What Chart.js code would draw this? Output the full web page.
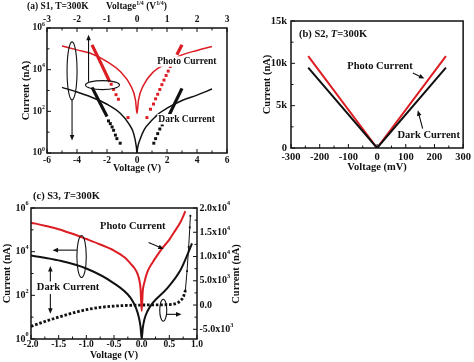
<!DOCTYPE html>
<html><head><meta charset="utf-8">
<script src="https://cdn.jsdelivr.net/npm/chart.js@4.4.1/dist/chart.umd.min.js"></script>
<style>
html,body{margin:0;padding:0;background:#fff;width:474px;height:362px;overflow:hidden}
.p{position:absolute}
canvas{display:block}
</style></head><body>
<div class="p" style="left:0;top:0"><canvas id="ca" width="240" height="185"></canvas></div>
<div class="p" style="left:240px;top:0"><canvas id="cb" width="234" height="185"></canvas></div>
<div class="p" style="left:0;top:185px"><canvas id="cc" width="250" height="177"></canvas></div>
<script>
// ================= DATA =================
// Panel (a) S1 : current vs voltage (log10 of current in nA)
const voltA_photo = [-5,-4,-3.1,-2,-1.1,-0.44,-0.1,0,0.1,0.44,1.1,2,3,4,5];
const photoA_exp  = [5.14,4.95,4.79,4.39,3.9,3.26,2.54,1.9,2.54,3.26,3.9,4.31,4.71,4.92,5.11];
const voltA_dark  = [-5,-4,-3.1,-2,-1.1,-0.55,-0.22,-0.04,0,0.04,0.2,0.5,0.9,1.2,1.5,2,3,4,5];
const darkA_exp   = [3.15,2.93,2.7,2.34,1.9,1.41,0.93,0.28,0,0.25,0.65,1.15,1.5,1.72,1.92,2.15,2.52,2.78,3.07];
// Panel (a) vs V^1/4 (top axis), scatter markers
const uA_redDenseL = [-1.5,-1.2,-0.91];   const eA_redDenseL = [5.19,4.3,3.42];
const uA_redDenseR = [1.33,1.5];          const eA_redDenseR = [4.72,5.2];
const uA_redDots = [-0.86,-0.78,-0.7,-0.62,-0.3,0.33,0.45,0.55,0.62,0.69,0.76,0.83,0.9,0.97,1.04,1.11,1.18,1.25];
const eA_redDots = [3.3,3.05,2.8,2.58,1.7,1.7,2.1,2.35,2.6,2.82,3.05,3.28,3.5,3.72,3.93,4.15,4.38,4.55];
const uA_blkDenseL = [-1.5,-1.0];         const eA_blkDenseL = [3.15,1.75];
const uA_blkDenseR = [1.08,1.5];          const eA_blkDenseR = [1.85,3.1];
const uA_blkDots = [-0.95,-0.89,-0.83,-0.78,-0.72,-0.67,-0.56,0.56,0.62,0.69,0.76,0.84,0.92,0.99];
const eA_blkDots = [1.54,1.41,1.25,1.09,0.86,0.69,0.47,0.47,0.69,0.93,1.15,1.35,1.55,1.72];

// Panel (b) S2 : linear current (nA) vs voltage (mV)
const voltB  = [-240,0,240];
const photoB = [10850,0,10850];
const darkB  = [9500,0,9500];

// Panel (c) S3
const voltC_photo = [-2,-1.75,-1.5,-1.25,-1,-0.75,-0.5,-0.3,-0.2,-0.1,-0.05,-0.02,0,0.02,0.05,0.1,0.2,0.3,0.37,0.5,0.58,0.7,0.79];
const photoC_exp  = [5.33,5.19,5.03,4.82,4.58,4.33,4.05,3.72,3.45,3.12,2.78,2.3,1.28,2.2,2.6,3.05,3.52,3.9,4.15,4.55,4.87,5.35,5.85];
const voltC_dark  = [-2,-1.5,-1,-0.5,-0.2,-0.1,-0.05,-0.02,0,0.02,0.05,0.1,0.2,0.46,0.7,0.8,0.91];
const darkC_exp   = [3.83,3.6,3.23,2.55,1.88,1.4,0.98,0.55,0,0.5,0.9,1.25,1.65,2.32,3.15,3.7,4.38];
const voltC_lin   = [-2,-1.7,-1.5,-1.2,-1,-0.75,-0.5,-0.25,0,0.25,0.5,0.58,0.65,0.7,0.75,0.79];
const darkC_lin   = [-4400,-3200,-2500,-1500,-960,-480,-220,-70,0,40,90,200,450,900,1600,3000];
const voltC_tail  = [0.79,0.82,0.85,0.87,0.88];
const darkC_tail  = [3000,7000,12000,16000,18400];

// Tick values / labels
const ticksA_bottom = [-6,-4,-2,0,2,4,6],  minorA_bottom = [-5,-3,-1,1,3,5];
const ticksA_top = [-3,-2,-1,0,1,2,3],     minorA_top = [-2.5,-1.5,-0.5,0.5,1.5,2.5];
const ticksA_left = [1,1e2,1e4,1e6],       minorA_left = [10,1e3,1e5];
const expLabelsA = ['0','2','4','6'];
const ticksB_x = [-300,-200,-100,0,100,200,300], minorB_x = [-250,-150,-50,50,150,250];
const ticksB_y = [0,5000,10000,15000],     minorB_y = [2500,7500,12500];
const labelsB_y = ['0','5k','10k','15k'];
const ticksC_x = [-2,-1.5,-1,-0.5,0,0.5,1], minorC_x = [-1.75,-1.25,-0.75,-0.25,0.25,0.75];
const ticksC_left = [1,1e2,1e4,1e6],       minorC_left = [10,1e3,1e5];
const expLabelsC = ['0','2','4','6'];
const ticksC_right = [-5000,0,5000,10000,15000,20000], minorC_right = [-2500,2500,7500,12500,17500];
const labelsC_right_main = ['-5.0x10','0.0','5.0x10','1.0x10','1.5x10','2.0x10'];
const labelsC_right_sup  = ['3','','3','4','4','4'];

// ================= HELPERS =================
const RED = '#dc1e24', BLK = '#111111';
const SERIF = '"Liberation Serif","Times New Roman",serif';
const F = (s, st) => (st || 'bold') + ' ' + s + 'px ' + SERIF;
const pow10 = e => Math.pow(10, e);
const pts = (xs, ys, f) => xs.map((x, i) => ({x: x, y: f ? f(ys[i]) : ys[i]}));

function richText(ctx, x, y, parts, size, align, rot) {
  const fontOf = p => p[1] === 's' ? F(size * 0.62) : (p[1] === 'i' ? F(size, 'italic bold') : F(size));
  let w = 0;
  const ws = parts.map(p => { ctx.font = fontOf(p); const m = ctx.measureText(p[0]).width; w += m; return m; });
  ctx.save();
  ctx.translate(x, y);
  if (rot) ctx.rotate(rot);
  let cx = align === 'right' ? -w : (align === 'center' ? -w / 2 : 0);
  ctx.textBaseline = 'middle'; ctx.textAlign = 'left'; ctx.fillStyle = BLK;
  parts.forEach((p, i) => { ctx.font = fontOf(p); ctx.fillText(p[0], cx, p[1] === 's' ? -size * 0.42 : 0); cx += ws[i]; });
  ctx.restore();
  return w;
}
function drawArrow(ctx, x1, y1, x2, y2) {
  const ang = Math.atan2(y2 - y1, x2 - x1), L = 5.5, W = 2.3;
  ctx.beginPath(); ctx.moveTo(x1, y1); ctx.lineTo(x2 - Math.cos(ang) * L * 0.8, y2 - Math.sin(ang) * L * 0.8); ctx.stroke();
  ctx.beginPath();
  ctx.moveTo(x2, y2);
  ctx.lineTo(x2 - Math.cos(ang) * L - Math.sin(ang) * W, y2 - Math.sin(ang) * L + Math.cos(ang) * W);
  ctx.lineTo(x2 - Math.cos(ang) * L + Math.sin(ang) * W, y2 - Math.sin(ang) * L - Math.cos(ang) * W);
  ctx.closePath(); ctx.fill();
}

const deco = {
  id: 'deco',
  afterDatasetsDraw(chart, args, o) {
    const ctx = chart.ctx;
    const P = (x, y) => [chart.scales[o.xId].getPixelForValue(x), chart.scales[o.yId].getPixelForValue(o.yLog ? pow10(y) : y)];
    ctx.save();
    ctx.strokeStyle = BLK; ctx.fillStyle = BLK; ctx.lineWidth = 1.1;
    (o.ellipses || []).forEach(e => { const p = P(e.x, e.y); ctx.beginPath(); ctx.ellipse(p[0], p[1], e.rx, e.ry, 0, 0, 2 * Math.PI); ctx.stroke(); });
    (o.arrows || []).forEach(r => { const a = P(r.x1, r.y1), b = P(r.x2, r.y2); drawArrow(ctx, a[0], a[1], b[0], b[1]); });
    (o.notes || []).forEach(n => {
      const p = P(n.x, n.y);
      ctx.font = F(o.noteSize);
      const w = ctx.measureText(n.text).width;
      const x0 = n.align === 'center' ? p[0] - w / 2 : p[0];
      if (n.bg) { ctx.fillStyle = '#fff'; ctx.fillRect(x0 - 1, p[1] - o.noteSize * 0.55, w + 2, o.noteSize * 1.1); }
      ctx.fillStyle = BLK; ctx.textAlign = 'left'; ctx.textBaseline = 'middle';
      ctx.fillText(n.text, x0, p[1]);
    });
    ctx.restore();
  },
  afterDraw(chart, args, o) {
    const ctx = chart.ctx, a = chart.chartArea;
    ctx.save();
    ctx.strokeStyle = BLK; ctx.fillStyle = BLK;
    ctx.lineWidth = 1;
    (o.ticks || []).forEach(t => {
      const s = chart.scales[t.scale];
      const draw = (v, len) => {
        const px = s.getPixelForValue(v);
        ctx.beginPath();
        if (t.side === 'bottom') { ctx.moveTo(px, a.bottom); ctx.lineTo(px, a.bottom - len); }
        if (t.side === 'top') { ctx.moveTo(px, a.top); ctx.lineTo(px, a.top + len); }
        if (t.side === 'left') { ctx.moveTo(a.left, px); ctx.lineTo(a.left + len, px); }
        if (t.side === 'right') { ctx.moveTo(a.right, px); ctx.lineTo(a.right - len, px); }
        ctx.stroke();
      };
      t.major.forEach(v => draw(v, 4)); t.minor.forEach(v => draw(v, 2.5));
    });
    ctx.lineWidth = 1.5;
    ctx.strokeRect(a.left, a.top, a.right - a.left, a.bottom - a.top);
    (o.axisLabels || []).forEach(L => {
      const s = chart.scales[L.scale];
      L.values.forEach((v, i) => {
        const py = s.getPixelForValue(v);
        const parts = [[L.main[i], 'n']];
        if (L.sup[i]) parts.push([L.sup[i], 's']);
        if (L.side === 'left') richText(ctx, a.left - L.gap, py, parts, L.size, 'right');
        else richText(ctx, a.right + L.gap, py, parts, L.size, 'left');
      });
    });
    (o.titles || []).forEach(T => richText(ctx, T.x, T.y, T.parts, T.size, T.align, T.rot));
    ctx.restore();
  }
};
Chart.register(deco);

const tickFont = s => ({family: SERIF, weight: 'bold', size: s});
const noGrid = {display: false, drawTicks: false};
const noBorder = {display: false};

// ================= PANEL (a) =================
const lineDs = (data, color, w, xId) => ({data, showLine: true, borderColor: color, borderWidth: w, pointRadius: 0, cubicInterpolationMode: 'monotone', xAxisID: xId || 'x', yAxisID: 'y'});
const dotDs = (data, color, xId) => ({data, showLine: false, pointStyle: 'rect', pointRadius: 2.1, pointBorderWidth: 0, pointBackgroundColor: color, xAxisID: xId, yAxisID: 'y'});
const denseDs = (data, color) => ({data, showLine: true, borderColor: color, borderWidth: 3.2, borderCapStyle: 'butt', pointRadius: 0, xAxisID: 'x2', yAxisID: 'y'});

new Chart(document.getElementById('ca'), {
  type: 'scatter',
  data: {datasets: [
    lineDs(pts(voltA_photo, photoA_exp, pow10), RED, 1.5),
    lineDs(pts(voltA_dark, darkA_exp, pow10), BLK, 1.5),
    denseDs(pts(uA_redDenseL, eA_redDenseL, pow10), RED),
    denseDs(pts(uA_redDenseR, eA_redDenseR, pow10), RED),
    dotDs(pts(uA_redDots, eA_redDots, pow10), RED, 'x2'),
    denseDs(pts(uA_blkDenseL, eA_blkDenseL, pow10), BLK),
    denseDs(pts(uA_blkDenseR, eA_blkDenseR, pow10), BLK),
    dotDs(pts(uA_blkDots, eA_blkDots, pow10), BLK, 'x2')
  ]},
  options: {
    responsive: false, animation: false, devicePixelRatio: 1,
    layout: {padding: {left: 0, right: 13, top: 0, bottom: 0}},
    plugins: {legend: {display: false}, tooltip: {enabled: false},
      deco: {
        xId: 'x', yId: 'y', yLog: true, noteSize: 9.5,
        ticks: [
          {scale: 'x', side: 'bottom', major: ticksA_bottom, minor: minorA_bottom},
          {scale: 'x2', side: 'top', major: ticksA_top, minor: minorA_top},
          {scale: 'y', side: 'left', major: ticksA_left, minor: minorA_left}
        ],
        axisLabels: [{scale: 'y', side: 'left', gap: 2, size: 9.5, values: ticksA_left, main: ticksA_left.map(() => '10'), sup: expLabelsA}],
        titles: [
          {x: 27, y: 7, size: 9.5, align: 'left', parts: [['(a) S1, T=300K', 'n']]},
          {x: 106, y: 7, size: 9.5, align: 'left', parts: [['Voltage', 'n'], ['1/4', 's'], [' (V', 'n'], ['1/4', 's'], [')', 'n']]}
        ],
        ellipses: [{x: -4.33, y: 3.94, rx: 5, ry: 29}, {x: -2.3, y: 3.26, rx: 17, ry: 4.5}],
        arrows: [{x1: -4.33, y1: 2.54, x2: -4.33, y2: 0.6}, {x1: -3.23, y1: 3.42, x2: -3.23, y2: 5.68}],
        notes: [{x: 1.35, y: 4.39, text: 'Photo Current', align: 'left', bg: true}, {x: 1.42, y: 1.62, text: 'Dark Current', align: 'left', bg: true}]
      }
    },
    scales: {
      x: {type: 'linear', position: 'bottom', min: -6, max: 6,
        ticks: {stepSize: 2, font: tickFont(9.5), color: BLK, padding: 2, autoSkip: false, maxRotation: 0},
        grid: noGrid, border: noBorder,
        title: {display: true, text: 'Voltage (V)', font: tickFont(10), color: BLK, padding: {top: 0, bottom: 11}},
        afterFit(s) { s.height = 32; }},
      x2: {type: 'linear', position: 'top', min: -3, max: 3,
        ticks: {stepSize: 1, font: tickFont(9.5), color: BLK, padding: 3, autoSkip: false, maxRotation: 0},
        grid: noGrid, border: noBorder,
        afterFit(s) { s.height = 28; }},
      y: {type: 'logarithmic', position: 'left', min: 1, max: 1e6,
        ticks: {display: false}, grid: noGrid, border: noBorder,
        title: {display: true, text: 'Current (nA)', font: tickFont(10.5), color: BLK, padding: {top: 20, bottom: 0}},
        afterFit(s) { s.width = 47; }}
    }
  }
});

// ================= PANEL (b) =================
new Chart(document.getElementById('cb'), {
  type: 'scatter',
  data: {datasets: [
    {data: pts(voltB, darkB), showLine: true, borderColor: BLK, borderWidth: 2, pointRadius: 0},
    {data: pts(voltB, photoB), showLine: true, borderColor: RED, borderWidth: 2, pointRadius: 0}
  ]},
  options: {
    responsive: false, animation: false, devicePixelRatio: 1,
    layout: {padding: {left: 0, right: 8, top: 21, bottom: 0}},
    plugins: {legend: {display: false}, tooltip: {enabled: false},
      deco: {
        xId: 'x', yId: 'y', yLog: false, noteSize: 10.5,
        ticks: [
          {scale: 'x', side: 'bottom', major: ticksB_x, minor: minorB_x},
          {scale: 'y', side: 'left', major: ticksB_y, minor: minorB_y}
        ],
        titles: [{x: 59, y: 34, size: 10.5, align: 'left', parts: [['(b) S2, ', 'n'], ['T', 'i'], ['=300K', 'n']]}],
        arrows: [{x1: 125, y1: 8850, x2: 165, y2: 8200}, {x1: 159, y1: 2300, x2: 142, y2: 4450}],
        notes: [{x: 10, y: 9650, text: 'Photo Current', align: 'center'}, {x: 180, y: 1500, text: 'Dark Current', align: 'center'}]
      }
    },
    scales: {
      x: {type: 'linear', position: 'bottom', min: -300, max: 300,
        ticks: {stepSize: 100, font: tickFont(10.5), color: BLK, padding: 3, autoSkip: false, maxRotation: 0},
        grid: noGrid, border: noBorder,
        title: {display: true, text: 'Voltage (mV)', font: tickFont(10.5), color: BLK, padding: {top: 0, bottom: 11}},
        afterFit(s) { s.height = 37; }},
      y: {type: 'linear', position: 'left', min: 0, max: 15000,
        afterBuildTicks(s) { s.ticks = ticksB_y.map(v => ({value: v})); },
        ticks: {font: tickFont(10.5), color: BLK, padding: 4, callback: (v) => labelsB_y[ticksB_y.indexOf(v)]},
        grid: noGrid, border: noBorder,
        title: {display: true, text: 'Current (nA)', font: tickFont(10.5), color: BLK, padding: {top: 21, bottom: 0}},
        afterFit(s) { s.width = 51; }}
    }
  }
});

// ================= PANEL (c) =================
new Chart(document.getElementById('cc'), {
  type: 'scatter',
  data: {datasets: [
    {data: pts(voltC_photo, photoC_exp, pow10), showLine: true, borderColor: RED, borderWidth: 2, pointRadius: 0, cubicInterpolationMode: 'monotone', yAxisID: 'y'},
    {data: pts(voltC_dark, darkC_exp, pow10), showLine: true, borderColor: BLK, borderWidth: 2, pointRadius: 0, cubicInterpolationMode: 'monotone', yAxisID: 'y'},
    {data: pts(voltC_lin, darkC_lin), showLine: true, borderColor: BLK, borderWidth: 2.8, borderDash: [2.6, 1.8], borderCapStyle: 'butt', pointRadius: 0, cubicInterpolationMode: 'monotone', yAxisID: 'y2'},
    {data: pts(voltC_tail, darkC_tail), showLine: true, borderColor: BLK, borderWidth: 1, pointStyle: 'rect', pointRadius: 1.3, pointBorderWidth: 0, pointBackgroundColor: BLK, yAxisID: 'y2'}
  ]},
  options: {
    responsive: false, animation: false, devicePixelRatio: 1,
    layout: {padding: {left: 0, right: 0, top: 23, bottom: 0}},
    plugins: {legend: {display: false}, tooltip: {enabled: false},
      deco: {
        xId: 'x', yId: 'y', yLog: true, noteSize: 10.5,
        ticks: [
          {scale: 'x', side: 'bottom', major: ticksC_x, minor: minorC_x},
          {scale: 'y', side: 'left', major: ticksC_left, minor: minorC_left},
          {scale: 'y2', side: 'right', major: ticksC_right, minor: minorC_right}
        ],
        axisLabels: [
          {scale: 'y', side: 'left', gap: 2.5, size: 10, values: ticksC_left, main: ticksC_left.map(() => '10'), sup: expLabelsC},
          {scale: 'y2', side: 'right', gap: 2.5, size: 10, values: ticksC_right, main: labelsC_right_main, sup: labelsC_right_sup}
        ],
        titles: [
          {x: 33, y: 11.7, size: 10.5, align: 'left', parts: [['(c) S3, ', 'n'], ['T', 'i'], ['=300K', 'n']]},
          {x: 236, y: 89, size: 10.5, align: 'center', rot: -Math.PI / 2, parts: [['Current (nA)', 'n']]}
        ],
        ellipses: [{x: -1.086, y: 3.78, rx: 4.7, ry: 21}, {x: 0.39, y: 1.32, rx: 3.5, ry: 11}],
        arrows: [
          {x1: -1.17, y1: 4.07, x2: -1.61, y2: 4.07},
          {x1: -1.65, y1: 2.63, x2: -1.65, y2: 3.34},
          {x1: -1.65, y1: 2.06, x2: -1.65, y2: 1.16},
          {x1: 0.45, y1: 1.13, x2: 0.72, y2: 1.13},
          {x1: 0.125, y1: 4.42, x2: 0.4, y2: 4.12}
        ],
        notes: [{x: -0.16, y: 5.16, text: 'Photo Current', align: 'center'}, {x: -1.33, y: 2.37, text: 'Dark Current', align: 'center'}]
      }
    },
    scales: {
      x: {type: 'linear', position: 'bottom', min: -2, max: 1,
        afterBuildTicks(s) { s.ticks = ticksC_x.map(v => ({value: v})); },
        ticks: {font: tickFont(9.5), color: BLK, padding: 0, autoSkip: false, maxRotation: 0, callback: v => v.toFixed(1)},
        grid: noGrid, border: noBorder,
        title: {display: true, text: 'Voltage (V)', font: tickFont(10), color: BLK, padding: {top: 0, bottom: 0.5}},
        afterFit(s) { s.height = 23; }},
      y: {type: 'logarithmic', position: 'left', min: 1, max: 1e6,
        ticks: {display: false}, grid: noGrid, border: noBorder,
        title: {display: true, text: 'Current (nA)', font: tickFont(10.5), color: BLK, padding: {top: 1.2, bottom: 0}},
        afterFit(s) { s.width = 31; }},
      y2: {type: 'linear', position: 'right', min: -7000, max: 20000,
        ticks: {display: false}, grid: noGrid, border: noBorder,
        afterFit(s) { s.width = 53; }}
    }
  }
});
</script>
</body></html>
